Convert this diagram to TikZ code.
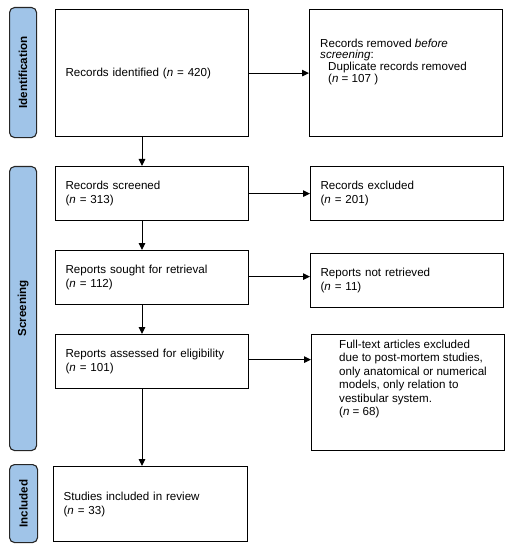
\documentclass[tikz,border=0pt]{standalone}
\usepackage{fontspec}
\setmainfont{Liberation Sans}
\usetikzlibrary{arrows.meta}
\definecolor{phase}{HTML}{A0C4E8}
\begin{document}
\begin{tikzpicture}[x=1bp,y=-1bp,
  every node/.style={font=\fontsize{11.6bp}{14bp}\selectfont},
  box/.style={draw, line width=1.2bp, rectangle, inner xsep=10bp, inner ysep=0pt, align=left, anchor=north west},
  phasebox/.style={draw=black!85, line width=1.1bp, fill=phase, rounded corners=5bp, anchor=north west, inner sep=0pt},
  phasetext/.style={font=\fontsize{11.6bp}{14bp}\selectfont\bfseries, rotate=90},
  txt/.style={anchor=west, align=left, inner sep=0pt},
  arr/.style={line width=1bp, -{Triangle[length=7bp,width=6.5bp]}}
]
\useasboundingbox (0,0) rectangle (512,550);
% phase labels
\node[phasebox, minimum width=27bp, minimum height=130bp] (pid) at (9,7) {};
\node[phasetext] (pidt) at (pid.center) {Identification};
\node[phasebox, minimum width=27bp, minimum height=284bp] (psc) at (9,166) {};
\node[phasetext] (psct) at (psc.center) {Screening};
\node[phasebox, minimum width=28bp, minimum height=78bp] (pin) at (9,464) {};
\node[phasetext] (pint) at (pin.center) {Included};
% left boxes
\node[box, minimum width=193bp, minimum height=127bp, text width=173bp] (b1) at (55,9) {Records identified (\textit{n} = 420)};
\node[box, minimum width=193bp, minimum height=54bp, text width=173bp] (b2) at (55,166) {Records screened\\(\textit{n} = 313)};
\node[box, minimum width=193bp, minimum height=54bp, text width=173bp] (b3) at (55,250) {Reports sought for retrieval\\(\textit{n} = 112)};
\node[box, minimum width=193bp, minimum height=54bp, text width=173bp] (b4) at (55,334) {Reports assessed for eligibility\\(\textit{n} = 101)};
\node[box, minimum width=194bp, minimum height=75bp, text width=174bp] (b5) at (53,466) {Studies included in review\\(\textit{n} = 33)};
% right boxes
\node[box, minimum width=193bp, minimum height=127bp] (r1) at (309,9) {};
\node[txt, font=\fontsize{11.6bp}{10.7bp}\selectfont] (r1t) at (320,62) {Records removed \textit{before}\\\textit{screening}:\\\hspace{8bp}Duplicate records removed\\\hspace{8bp}(\textit{n} = 107 )};
\node[box, minimum width=193bp, minimum height=54bp, text width=173bp] (r2) at (310,166) {Records excluded\\(\textit{n} = 201)};
\node[box, minimum width=193bp, minimum height=54bp, text width=173bp] (r3) at (310,253) {Reports not retrieved\\(\textit{n} = 11)};
\node[box, minimum width=193bp, minimum height=116bp] (r4) at (311,334) {};
\node[txt, font=\fontsize{11.6bp}{13.4bp}\selectfont] (r4t) at (339,379) {Full-text articles excluded\\due to post-mortem studies,\\only anatomical or numerical\\models, only relation to\\vestibular system.\\(\textit{n} = 68)};
% connectors
\coordinate (ax) at (142,0);
\draw[arr] (b1.south -| ax) -- (b2.north -| ax);
\draw[arr] (b2.south -| ax) -- (b3.north -| ax);
\draw[arr] (b3.south -| ax) -- (b4.north -| ax);
\draw[arr] (b4.south -| ax) -- (b5.north -| ax);
\draw[arr] (b1.east) -- (b1.east -| r1.west);
\draw[arr] (b2.east) -- (b2.east -| r2.west);
\draw[arr] ([yshift=1bp]b3.east) -- ([yshift=1bp]b3.east -| r3.west);
\draw[arr] ([yshift=2bp]b4.east) -- ([yshift=2bp]b4.east -| r4.west);
\end{tikzpicture}
\end{document}
